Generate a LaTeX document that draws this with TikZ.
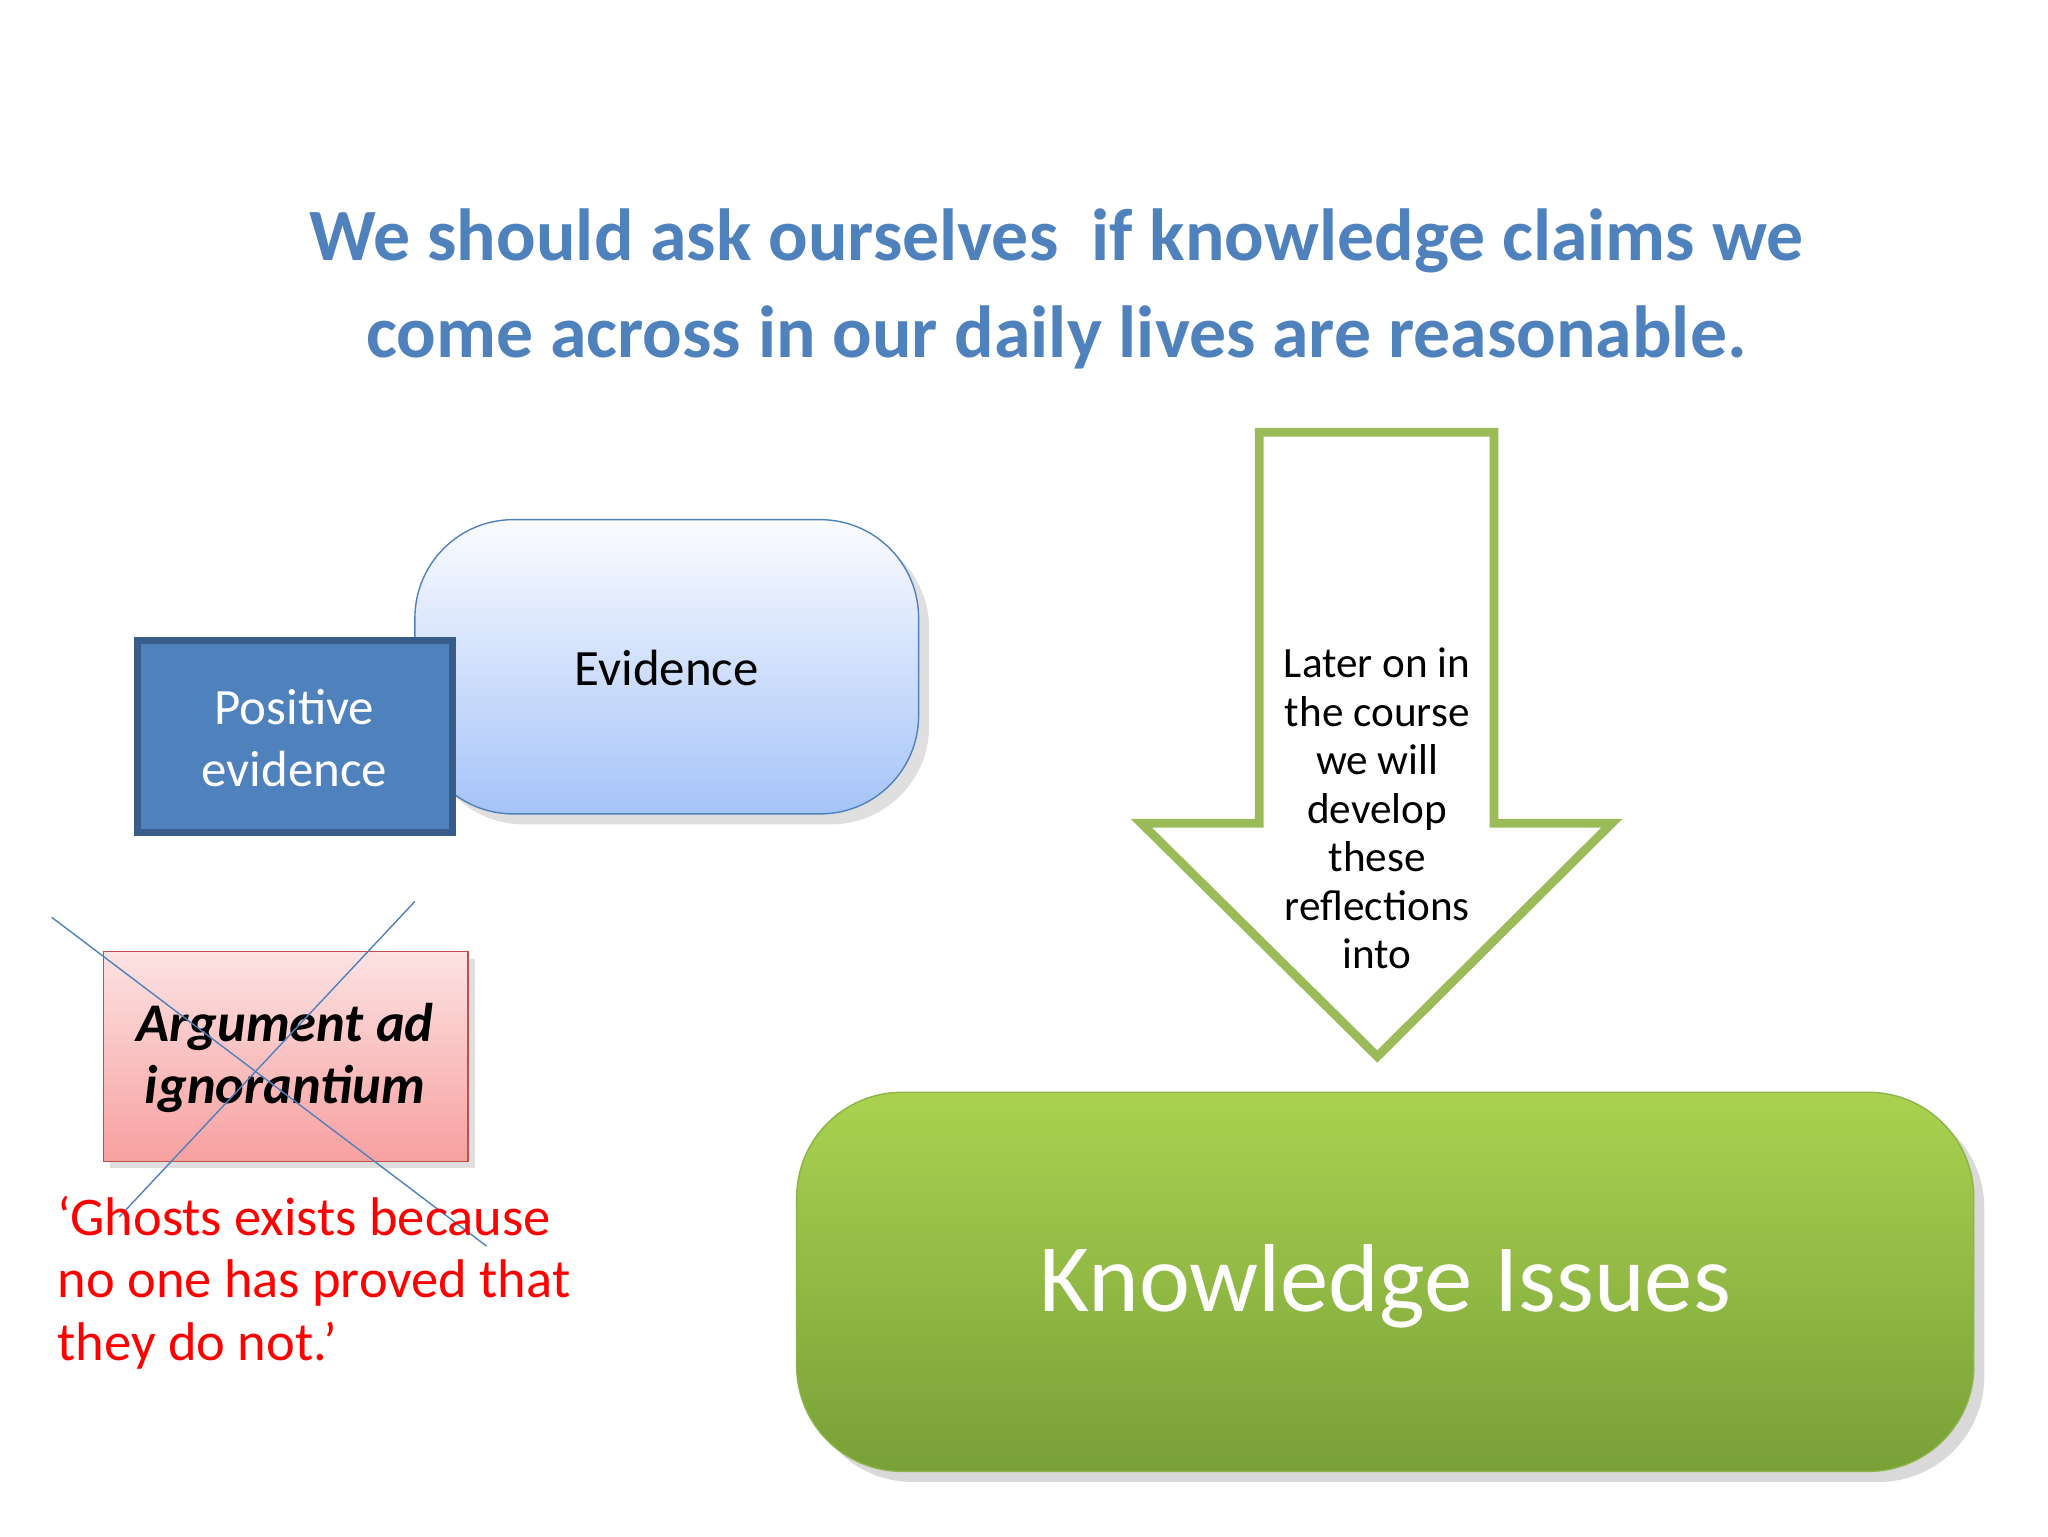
\documentclass[tikz,border=0pt]{standalone}
\usepackage{fontspec}
\setmainfont{Carlito}
\usetikzlibrary{shadows}
\definecolor{tblue}{RGB}{79,129,189}
\definecolor{dblue}{RGB}{56,93,138}
\definecolor{agreen}{RGB}{155,187,89}
\definecolor{pred}{RGB}{192,80,77}
\begin{document}
\begin{tikzpicture}[x=0.013256cm,y=-0.013256cm,
  ttl/.style={text=tblue,font=\fontsize{21}{27.5}\selectfont\bfseries,align=center},
  body/.style={font=\fontsize{14.5}{17.7}\selectfont,align=center}]
\useasboundingbox (0,0) rectangle (1545,1159);
% title
\node[ttl] (title) at (797,218) {We should ask ourselves\ \ if knowledge claims we\\come across in our daily lives are reasonable.};
% evidence
\draw[draw=tblue,rounded corners=28pt,top color=blue!10!white!90!tblue!10,bottom color={rgb,255:red,165;green,195;blue,248},drop shadow={opacity=0.25,shadow xshift=3pt,shadow yshift=-3pt}]
  (313,392) rectangle (693,614);
\node[body] (ev) at (503,504) {Evidence};
\draw[draw=dblue,line width=2pt,fill=tblue] (104,483) rectangle (341,628);
\node[body,text=white] (pos) at (222,557) {Positive\\evidence};
% argument
\draw[draw=pred,top color={rgb,255:red,252;green,226;blue,226},bottom color={rgb,255:red,248;green,160;blue,160},drop shadow={opacity=0.25,shadow xshift=2pt,shadow yshift=-2pt}] (78,718) rectangle (353,876);
\node[body,font=\fontsize{15.5}{17.7}\selectfont\bfseries\itshape] (arg) at (215,798) {Argument ad\\ignorantium};
\coordinate (c1) at (39,692); \coordinate (c2) at (367,940);
\coordinate (c3) at (313,680); \coordinate (c4) at (90,918);
\draw[tblue] (c1) -- (c2); \draw[tblue] (c3) -- (c4);
\node[body,anchor=north west,align=left,text=red,font=\fontsize{15.5}{17.7}\selectfont,inner sep=0pt] (ghost) at (43,902) {‘Ghosts exists because\\no one has proved that\\they do not.’};
% arrow
\draw[agreen,line width=2.5pt,fill=white] (950,326) -- (1127,326) -- (1127,621) -- (1216,621) -- (1039,797) -- (861,621) -- (950,621) -- cycle;
\node[font=\fontsize{12.3}{13.8}\selectfont,align=center] (arrtxt) at (1039,610) {Later on in\\the course\\we will\\develop\\these\\reflections\\into};
% knowledge issues
\draw[draw={rgb,255:red,140;green,180;blue,70},rounded corners=30pt,top color={rgb,255:red,170;green,210;blue,80},bottom color={rgb,255:red,120;green,160;blue,56},drop shadow={opacity=0.3,shadow xshift=3pt,shadow yshift=-3pt}] (601,824) rectangle (1489,1110);
\node[text=white,font=\fontsize{27.5}{33}\selectfont] (ki) at (1045,970) {Knowledge Issues};
\end{tikzpicture}
\end{document}
